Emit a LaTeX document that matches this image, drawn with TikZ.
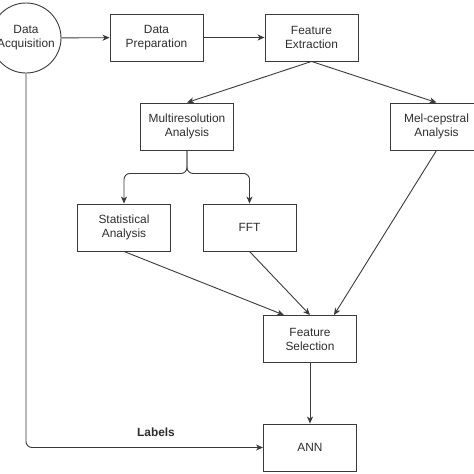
\documentclass[tikz,border=0pt]{standalone}
\usepackage{fontspec}
\setmainfont{Liberation Sans}
\usetikzlibrary{arrows.meta,calc}
\definecolor{linec}{HTML}{3A3A3A}
\definecolor{textc}{HTML}{2E2E2E}
\begin{document}
\begin{tikzpicture}[x=1pt,y=-1pt,
  box/.style={draw=linec, line width=0.9pt, rectangle, minimum width=93pt, minimum height=47pt,
    inner sep=0pt, align=center, text=textc, font=\fontsize{11.9}{14}\selectfont},
  circ/.style={draw=linec, line width=0.9pt, circle, minimum size=70pt, inner sep=0pt,
    align=center, text=textc, font=\fontsize{11.9}{14}\selectfont},
  arr/.style={draw=linec, line width=0.9pt, -{Stealth[length=7pt,width=6pt,inset=2pt]}},
  lbl/.style={text=textc, font=\fontsize{11.9}{14}\selectfont\bfseries}]
\useasboundingbox (0,0) rectangle (474,474);
\begin{scope}
\clip (0,0) rectangle (474,474);
\node[circ] (acq) at (26,38) {Data\\Acquisition};
\node[box] (prep) at (156.5,37.5) {Data\\Preparation};
\node[box] (feat) at (311.5,37.5) {Feature\\Extraction};
\node[box] (multi) at (187,126.5) {Multiresolution\\Analysis};
\node[box] (mel) at (436.5,126.5) {Mel-cepstral\\Analysis};
\node[box] (stat) at (124,227.5) {Statistical\\Analysis};
\node[box] (fft) at (249.5,227.5) {FFT};
\node[box] (fs) at (310,339) {Feature\\Selection};
\node[box] (ann) at (310,447.5) {ANN};
\node[lbl] (labels) at (156,432) {Labels};
\end{scope}
\draw[arr] (acq) -- (prep);
\draw[arr] (prep) -- (feat);
\draw[arr] (feat.south) -- (multi.north);
\draw[arr] (feat.south) -- (mel.north);
\coordinate (split) at ($(multi.south)+(0,23)$);
\draw[arr, rounded corners=6pt] (multi.south) -- (split) -| (stat.north);
\draw[arr, rounded corners=6pt] (multi.south) -- (split) -| (fft.north);
\draw[arr] (stat.south) -- ($(fs.north)+(-26,0)$);
\draw[arr] (fft.south) -- (fs.north);
\draw[arr] (mel.south) -- ($(fs.north)+(24,0)$);
\draw[arr] (fs) -- (ann);
\draw[arr, rounded corners=6pt] (acq.south) |- (ann.west);
\end{tikzpicture}
\end{document}
